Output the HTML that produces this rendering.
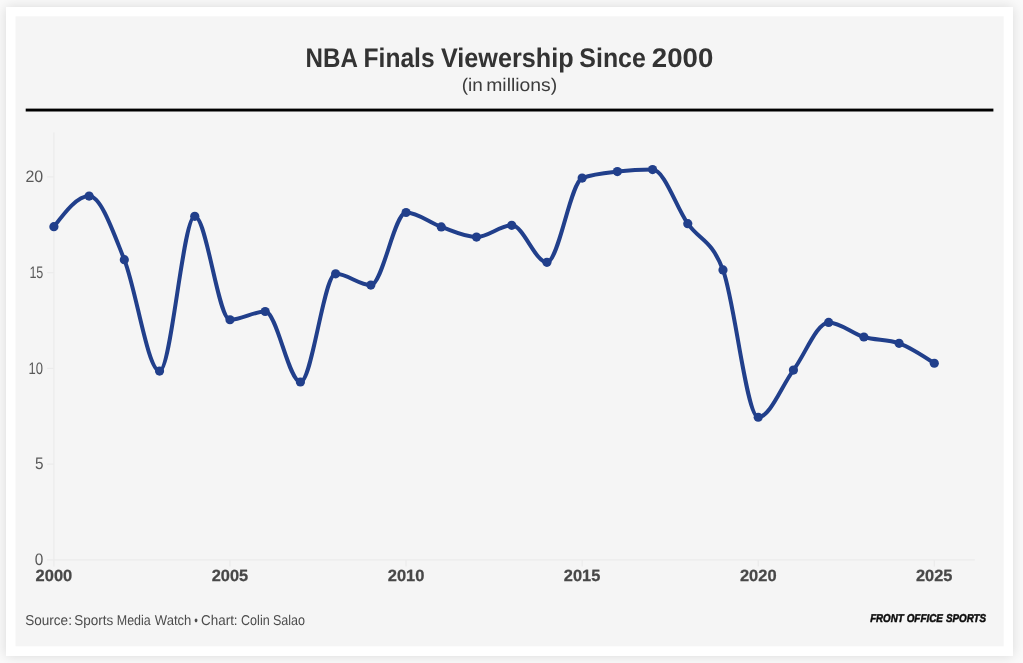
<!DOCTYPE html>
<html lang="en">
<head>
<meta charset="utf-8">
<title>NBA Finals Viewership Since 2000</title>
<style>
html,body{margin:0;padding:0;}
body{width:1023px;height:663px;overflow:hidden;background:#fafafa;position:relative;font-family:"Liberation Sans", Arial, Helvetica, sans-serif;}
.card{position:absolute;left:6px;top:7px;width:1007px;height:649px;background:#fff;box-shadow:0 0 12px rgba(0,0,0,.135);}
svg{position:absolute;left:0;top:0;}
svg text{font-family:"Liberation Sans", Arial, Helvetica, sans-serif;white-space:pre;text-rendering:geometricPrecision;}
</style>
</head>
<body>
<div class="card"></div>
<svg width="1023" height="663" viewBox="0 0 1023 663">
<rect x="15.5" y="16.35" width="988.2" height="629.95" fill="#f5f5f5"/>
<rect x="25.7" y="108.6" width="967.7" height="2.9" fill="#000"/>
<g stroke="#ebebeb" stroke-width="1.2" fill="none">
<line x1="53.9" x2="53.9" y1="132.5" y2="566.6"/>
<line x1="47.1" x2="974.8" y1="559.9" y2="559.9"/>
<line x1="47.1" x2="53.9" y1="464.15" y2="464.15"/><line x1="47.1" x2="53.9" y1="368.40" y2="368.40"/><line x1="47.1" x2="53.9" y1="272.65" y2="272.65"/><line x1="47.1" x2="53.9" y1="176.90" y2="176.90"/>
<line x1="229.98" x2="229.98" y1="559.9" y2="566.6"/><line x1="406.06" x2="406.06" y1="559.9" y2="566.6"/><line x1="582.14" x2="582.14" y1="559.9" y2="566.6"/><line x1="758.22" x2="758.22" y1="559.9" y2="566.6"/><line x1="934.30" x2="934.30" y1="559.9" y2="566.6"/>
</g>
<path d="M53.90,226.69C65.64,211.37,77.38,196.05,89.12,196.05C100.85,196.05,112.59,230.46,124.33,259.63C136.07,288.80,147.81,371.08,159.55,371.08C171.29,371.08,183.03,216.35,194.76,216.35C206.50,216.35,218.24,319.76,229.98,319.76C241.72,319.76,253.46,311.52,265.20,311.52C276.93,311.52,288.67,382.00,300.41,382.00C312.15,382.00,323.89,273.80,335.63,273.80C347.37,273.80,359.11,285.10,370.84,285.10C382.58,285.10,394.32,212.52,406.06,212.52C417.80,212.52,429.54,222.80,441.28,226.88C453.01,230.97,464.75,237.03,476.49,237.03C488.23,237.03,499.97,225.35,511.71,225.35C523.45,225.35,535.19,262.31,546.92,262.31C558.66,262.31,570.40,182.39,582.14,178.05C593.88,173.71,605.62,172.81,617.36,171.54C629.09,170.26,640.83,169.62,652.57,169.62C664.31,169.62,676.05,206.90,687.79,223.63C699.53,240.35,711.27,239.07,723.00,269.97C734.74,300.86,746.48,417.23,758.22,417.23C769.96,417.23,781.70,385.92,793.44,370.12C805.17,354.32,816.91,322.44,828.65,322.44C840.39,322.44,852.13,333.52,863.87,336.99C875.61,340.47,887.35,339.10,899.08,343.31C910.82,347.53,922.56,355.38,934.30,363.23" fill="none" stroke="#213f8b" stroke-width="4" stroke-linejoin="round" stroke-linecap="round"/>
<g fill="#213f8b"><circle cx="53.90" cy="226.69" r="4.6"/><circle cx="89.12" cy="196.05" r="4.6"/><circle cx="124.33" cy="259.63" r="4.6"/><circle cx="159.55" cy="371.08" r="4.6"/><circle cx="194.76" cy="216.35" r="4.6"/><circle cx="229.98" cy="319.76" r="4.6"/><circle cx="265.20" cy="311.52" r="4.6"/><circle cx="300.41" cy="382.00" r="4.6"/><circle cx="335.63" cy="273.80" r="4.6"/><circle cx="370.84" cy="285.10" r="4.6"/><circle cx="406.06" cy="212.52" r="4.6"/><circle cx="441.28" cy="226.88" r="4.6"/><circle cx="476.49" cy="237.03" r="4.6"/><circle cx="511.71" cy="225.35" r="4.6"/><circle cx="546.92" cy="262.31" r="4.6"/><circle cx="582.14" cy="178.05" r="4.6"/><circle cx="617.36" cy="171.54" r="4.6"/><circle cx="652.57" cy="169.62" r="4.6"/><circle cx="687.79" cy="223.63" r="4.6"/><circle cx="723.00" cy="269.97" r="4.6"/><circle cx="758.22" cy="417.23" r="4.6"/><circle cx="793.44" cy="370.12" r="4.6"/><circle cx="828.65" cy="322.44" r="4.6"/><circle cx="863.87" cy="336.99" r="4.6"/><circle cx="899.08" cy="343.31" r="4.6"/><circle cx="934.30" cy="363.23" r="4.6"/></g>
<text y="67.10" font-size="27" fill="#333" font-weight="700"><tspan x="305.50" textLength="51.50" lengthAdjust="spacingAndGlyphs">NBA</tspan> <tspan x="363.55" textLength="71.03" lengthAdjust="spacingAndGlyphs">Finals</tspan> <tspan x="440.97" textLength="132.58" lengthAdjust="spacingAndGlyphs">Viewership</tspan> <tspan x="579.36" textLength="66.44" lengthAdjust="spacingAndGlyphs">Since</tspan> <tspan x="651.88" textLength="61.50" lengthAdjust="spacingAndGlyphs">2000</tspan></text>
<text y="91.20" font-size="18.2" fill="#3c3c3c"><tspan x="461.78" textLength="21.07" lengthAdjust="spacingAndGlyphs">(in</tspan> <tspan x="486.24" textLength="71.01" lengthAdjust="spacingAndGlyphs">millions)</tspan></text>
<text y="625.00" font-size="14.2" fill="#4c4c4c"><tspan x="25.16" textLength="46.76" lengthAdjust="spacingAndGlyphs">Source:</tspan> <tspan x="74.27" textLength="39.04" lengthAdjust="spacingAndGlyphs">Sports</tspan> <tspan x="116.77" textLength="33.99" lengthAdjust="spacingAndGlyphs">Media</tspan> <tspan x="154.84" textLength="36.57" lengthAdjust="spacingAndGlyphs">Watch</tspan> <tspan x="194.35" textLength="3.61" lengthAdjust="spacingAndGlyphs">•</tspan> <tspan x="201.08" textLength="36.51" lengthAdjust="spacingAndGlyphs">Chart:</tspan> <tspan x="241.02" textLength="28.66" lengthAdjust="spacingAndGlyphs">Colin</tspan> <tspan x="272.94" textLength="32.16" lengthAdjust="spacingAndGlyphs">Salao</tspan></text>
<text y="622.20" font-size="11.3" fill="#0c0c0c" font-weight="700" font-style="italic" stroke="#0c0c0c" stroke-width="0.5"><tspan x="870.13" textLength="33.50" lengthAdjust="spacingAndGlyphs">FRONT</tspan> <tspan x="906.67" textLength="36.32" lengthAdjust="spacingAndGlyphs">OFFICE</tspan> <tspan x="945.98" textLength="40.19" lengthAdjust="spacingAndGlyphs">SPORTS</tspan></text>
<text y="565.15" font-size="16.6" fill="#5a5a5a"><tspan x="34.75" textLength="8.55" lengthAdjust="spacingAndGlyphs">0</tspan></text>
<text y="469.40" font-size="16.6" fill="#5a5a5a"><tspan x="35.09" textLength="8.52" lengthAdjust="spacingAndGlyphs">5</tspan></text>
<text y="373.65" font-size="16.6" fill="#5a5a5a"><tspan x="28.59" textLength="14.50" lengthAdjust="spacingAndGlyphs">10</tspan></text>
<text y="277.90" font-size="16.6" fill="#5a5a5a"><tspan x="29.38" textLength="14.00" lengthAdjust="spacingAndGlyphs">15</tspan></text>
<text y="182.15" font-size="16.6" fill="#5a5a5a"><tspan x="25.44" textLength="17.78" lengthAdjust="spacingAndGlyphs">20</tspan></text>
<text y="581.00" font-size="16.3" fill="#484848" font-weight="700" stroke="#484848" stroke-width="0.25"><tspan x="35.63" textLength="36.62" lengthAdjust="spacingAndGlyphs">2000</tspan></text>
<text y="581.00" font-size="16.3" fill="#484848" font-weight="700" stroke="#484848" stroke-width="0.25"><tspan x="211.71" textLength="36.43" lengthAdjust="spacingAndGlyphs">2005</tspan></text>
<text y="581.00" font-size="16.3" fill="#484848" font-weight="700" stroke="#484848" stroke-width="0.25"><tspan x="387.79" textLength="36.62" lengthAdjust="spacingAndGlyphs">2010</tspan></text>
<text y="581.00" font-size="16.3" fill="#484848" font-weight="700" stroke="#484848" stroke-width="0.25"><tspan x="563.87" textLength="36.43" lengthAdjust="spacingAndGlyphs">2015</tspan></text>
<text y="581.00" font-size="16.3" fill="#484848" font-weight="700" stroke="#484848" stroke-width="0.25"><tspan x="739.95" textLength="36.62" lengthAdjust="spacingAndGlyphs">2020</tspan></text>
<text y="581.00" font-size="16.3" fill="#484848" font-weight="700" stroke="#484848" stroke-width="0.25"><tspan x="916.03" textLength="36.43" lengthAdjust="spacingAndGlyphs">2025</tspan></text>
</svg>
</body>
</html>
